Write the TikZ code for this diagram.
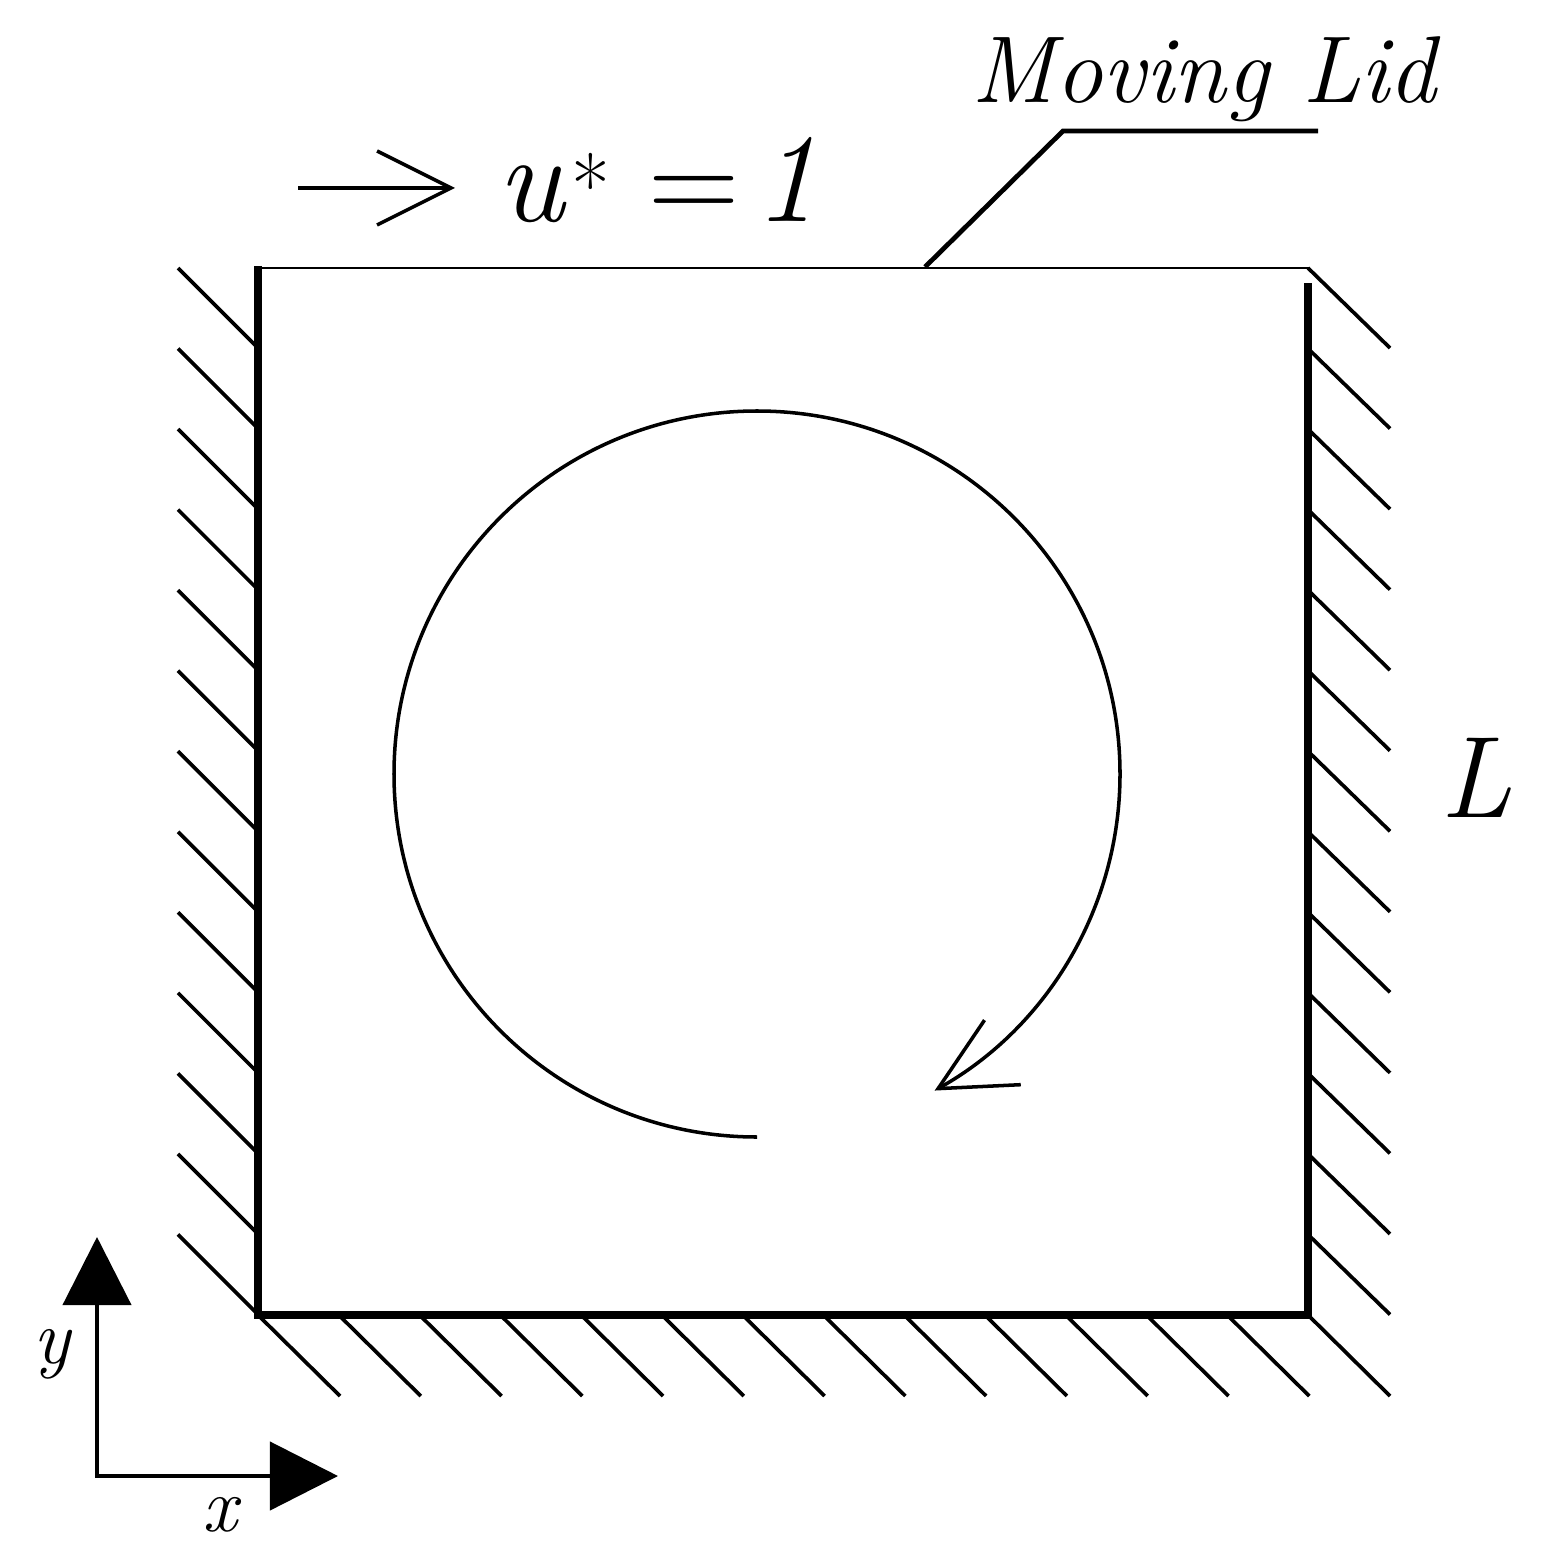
\documentclass[tikz,border=0pt]{standalone}
\usepackage{fontspec}
\usetikzlibrary{arrows.meta}

\tikzset{
  wall/.style={line width=2.1pt},
  hatch/.style={line width=1.05pt},
  barbtip/.style={-{Straight Barb[length=0.74cm,width=0.74cm]}},
  axis/.style={line width=1.2pt,
    {Triangle[length=0.68cm,width=0.68cm]}-{Triangle[length=0.68cm,width=0.68cm]}}
}

\begin{document}
\begin{tikzpicture}[x=0.01cm,y=0.01cm]
\useasboundingbox (0,0) rectangle (1542,-1567);

% cavity walls and lid
\draw[wall] (258,-266)--(258,-1315)--(1308,-1315)--(1308,-283);
\draw[line width=0.65pt] (258,-268)--(1310,-268);

% hatching
\foreach \i in {0,...,12} {
  \draw[hatch] (178,{-268-80.54*\i})--(258,{-348-80.54*\i});
  \draw[hatch] (1308,{-268-80.54*\i})--(1390,{-348-80.54*\i});
}
\foreach \i in {0,...,13}
  \draw[hatch] ({258+80.77*\i},-1315)--({340+80.77*\i},-1396);

% lid velocity
\draw[line width=1pt,barbtip] (298,-188)--(455,-188);
\node[inner sep=0,anchor=base west] (vel) at (497,-222)
  {\fontsize{36}{40}\selectfont\itshape u\kern0.06em\raisebox{0.04em}{\fontsize{24}{26}\selectfont\upshape *}\kern0.3em{\upshape=}\kern0.12em 1};

% lid label
\node[inner sep=0,anchor=base] (lid) at (1204,-103) {\fontsize{27}{30}\selectfont\itshape Moving Lid};
\coordinate (lidpt) at (925,-267);
\draw[line width=1.35pt] (lidpt)--(1063,-131)--(1318,-131);

% vortex
\draw[line width=1pt,barbtip] (757,-1137) arc[start angle=-90,end angle=-420.7,radius=363];

% side length
\node[inner sep=0] (len) at (1476,-778) {\fontsize{33}{36}\selectfont\itshape L};

% axes
\coordinate (o) at (97,-1476);
\draw[axis] (97,-1237)--(o)--(338,-1476);
\node[inner sep=0] (ylab) at (52,-1354) {\fontsize{22}{24}\selectfont\itshape y};
\node[inner sep=0] (xlab) at (220,-1515) {\fontsize{22}{24}\selectfont\itshape x};

\end{tikzpicture}
\end{document}
